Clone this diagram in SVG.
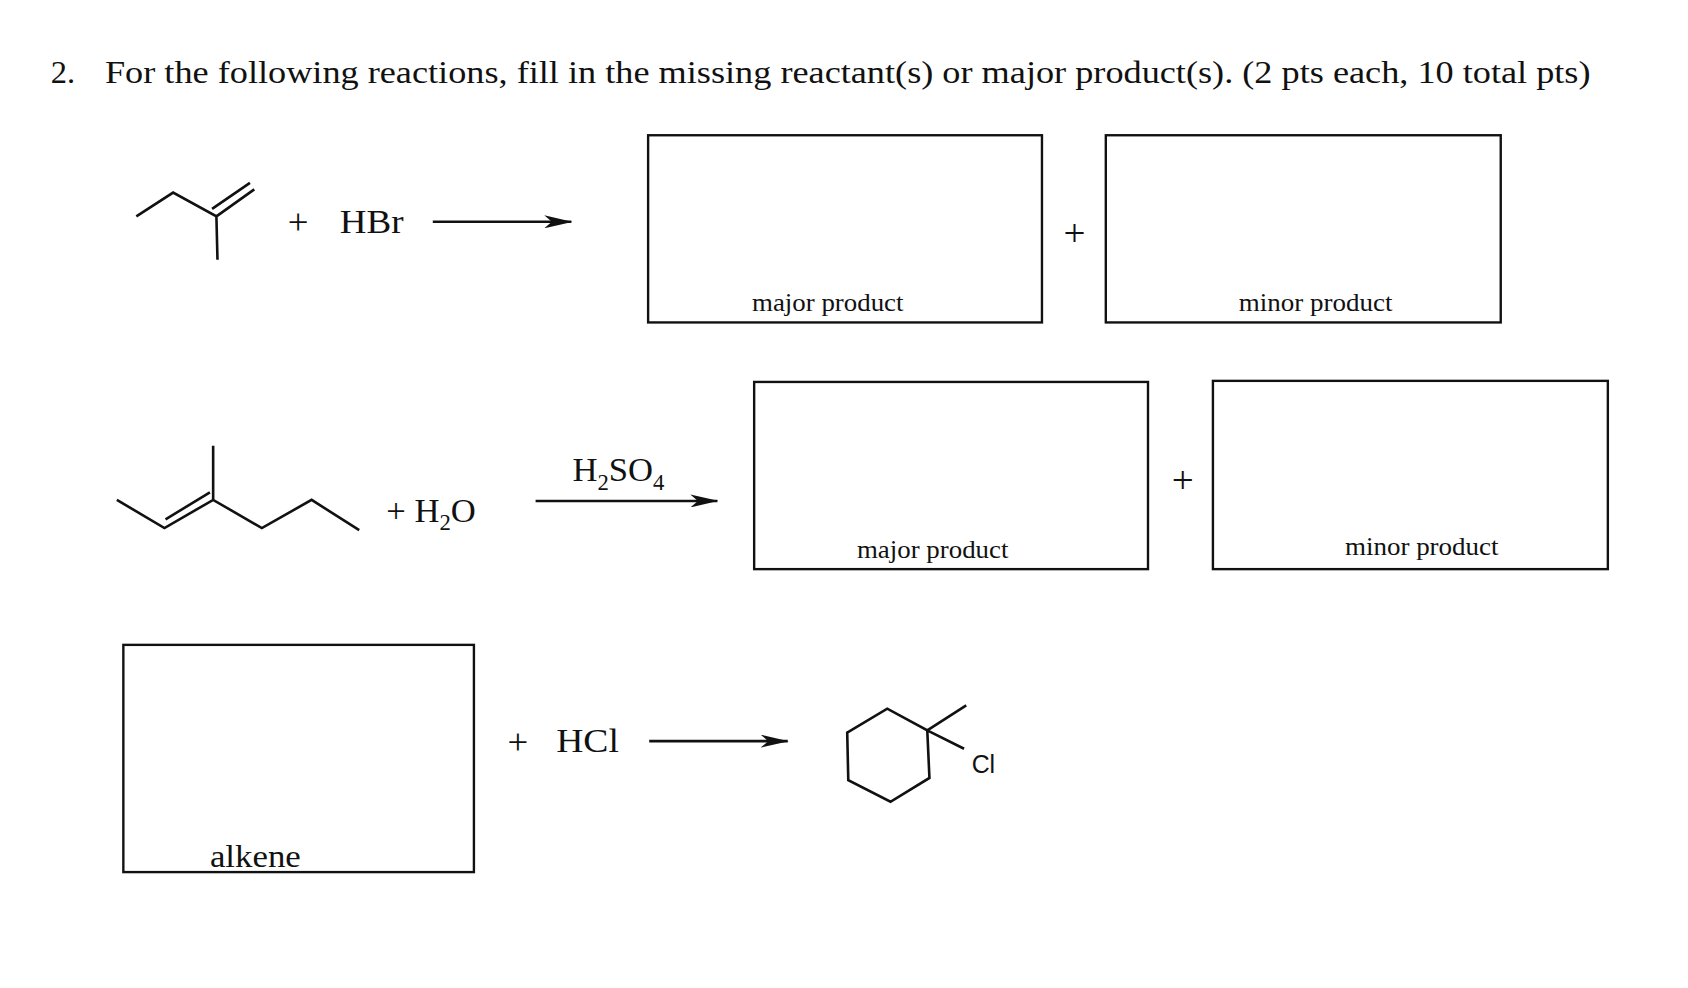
<svg xmlns="http://www.w3.org/2000/svg" width="1688" height="988" viewBox="0 0 1688 988">
<style>
.t{font-family:"Liberation Serif",serif;fill:#111}
.b{fill:none;stroke:#111;stroke-width:2.2}
.m{fill:none;stroke:#111;stroke-width:2.4;stroke-linejoin:miter}
.a{stroke:#111;stroke-width:2.4}
</style>
<defs><marker id="ah" markerWidth="26" markerHeight="12" refX="25" refY="6" orient="auto" markerUnits="userSpaceOnUse"><path d="M0,0 L26,6 L0,12 L7,6 Z" fill="#111"/></marker></defs>
<rect width="1688" height="988" fill="#fff"/>
<g transform="scale(1.082)">
<text class="t" x="47" y="77" font-size="30">2.</text>
<text class="t" x="97" y="77" font-size="30" textLength="1373" lengthAdjust="spacingAndGlyphs">For the following reactions, fill in the missing reactant(s) or major product(s). (2 pts each, 10 total pts)</text>
<g id="mol1"><path class="m" d="M126,200 L160,178 L200,200 L201,240 M200,200 L235,175 M196,193 L231,169"/></g>
<g id="hbr"><text class="t" x="266" y="216" font-size="34">+</text><text class="t" x="314" y="215" font-size="31" textLength="59" lengthAdjust="spacingAndGlyphs">HBr</text></g>
<g id="box1"><rect class="b" x="599" y="125" width="364" height="173"/><text class="t" x="765" y="287" font-size="23" text-anchor="middle" textLength="140" lengthAdjust="spacingAndGlyphs">major product</text></g>
<text class="t" x="993" y="227" font-size="36" text-anchor="middle">+</text>
<g id="box2"><rect class="b" x="1022" y="125" width="365" height="173"/><text class="t" x="1216" y="287" font-size="23" text-anchor="middle" textLength="142" lengthAdjust="spacingAndGlyphs">minor product</text></g>
<g id="mol2"><path class="m" d="M108,462 L152,488 L197,462 L242,488 L288,462 L332,490 M197,462 L197,412 M153,480 L194,455"/></g>
<g id="h2o"><text class="t" x="357" y="482" font-size="32">+ H<tspan font-size="21" dy="8">2</tspan><tspan dy="-8">O</tspan></text></g>
<g id="h2so4"><text class="t" x="529" y="445" font-size="32">H<tspan font-size="21" dy="8">2</tspan><tspan dy="-8">SO</tspan><tspan font-size="21" dy="8">4</tspan></text></g>
<g id="box3"><rect class="b" x="697" y="353" width="364" height="173"/><text class="t" x="862" y="516" font-size="23" text-anchor="middle" textLength="140" lengthAdjust="spacingAndGlyphs">major product</text></g>
<text class="t" x="1093" y="456" font-size="36" text-anchor="middle">+</text>
<g id="box4"><rect class="b" x="1121" y="352" width="365" height="174"/><text class="t" x="1314" y="513" font-size="23" text-anchor="middle" textLength="142" lengthAdjust="spacingAndGlyphs">minor product</text></g>
<g id="box5"><rect class="b" x="114" y="596" width="324" height="210"/><text class="t" x="194" y="801" font-size="30" textLength="84" lengthAdjust="spacingAndGlyphs">alkene</text></g>
<g id="hcl"><text class="t" x="469" y="697" font-size="34">+</text><text class="t" x="514" y="695" font-size="31" textLength="58" lengthAdjust="spacingAndGlyphs">HCl</text></g>
<g id="mol3"><path class="m" d="M783,677 L820,655 L857,675 L859,719 L823,741 L784,721 Z M857,675 L893,652 M857,675 L891,692"/><text x="898" y="714" font-size="23" font-family="Liberation Sans,sans-serif" fill="#111">Cl</text></g>
<g id="connectors">
<line class="a" x1="400" y1="205" x2="528" y2="205" marker-end="url(#ah)"/>
<line class="a" x1="495" y1="463" x2="663" y2="463" marker-end="url(#ah)"/>
<line class="a" x1="600" y1="685" x2="728" y2="685" marker-end="url(#ah)"/>
</g>
</g>
</svg>
